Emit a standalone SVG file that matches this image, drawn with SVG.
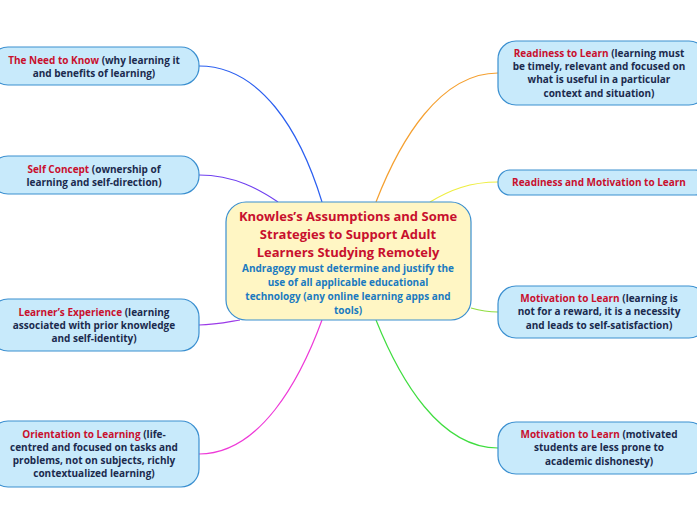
<svg xmlns="http://www.w3.org/2000/svg" width="697" height="520" viewBox="0 0 697 520">
<style>
text{font-family:"Open Sans","Noto Sans",sans-serif;font-weight:bold;text-anchor:middle}
.leaf{fill:#c8eafb;stroke:#3a8fd0;stroke-width:1.2}
.t{font-size:10px;fill:#1b2a4e}
.r{fill:#c8102e}
.c path{fill:none;stroke-width:1.2}
</style>
<rect width="697" height="520" fill="#fff"/>
<g class="c" id="connectors">
<path d="M199,66 C260,66 300,130 322,202" stroke="#2b5ff0"/>
<path d="M199,175 C235,175 260,190 278,202" stroke="#7040f0"/>
<path d="M199,325 C215,325 228,322 240,320" stroke="#9b3ae8"/>
<path d="M199,454 C260,454 300,380 322,320" stroke="#ee3ad8"/>
<path d="M498,73 C440,73 400,140 376,202" stroke="#f5a030"/>
<path d="M498,182 C470,182 450,190 430,202" stroke="#eeee40"/>
<path d="M498,312 C485,312 478,310 471,308" stroke="#90dd40"/>
<path d="M498,448 C440,448 400,380 376,320" stroke="#40dd40"/>
</g>
<g id="center">
<rect x="226" y="202" width="245" height="118" rx="20" fill="#fff6c4" stroke="#3a8fd0" stroke-width="1.2"/>
<text x="348" y="221" font-size="13" fill="#c8102e">Knowles’s Assumptions and Some</text>
<text x="348" y="239" font-size="13" fill="#c8102e">Strategies to Support Adult</text>
<text x="348" y="257" font-size="13" fill="#c8102e">Learners Studying Remotely</text>
<g font-size="10" fill="#1a7ac0">
<text x="348" y="272" font-size="10">Andragogy must determine and justify the</text>
<text x="348" y="286" font-size="10">use of all applicable educational</text>
<text x="348" y="300" font-size="10">technology (any online learning apps and</text>
<text x="348" y="314" font-size="10">tools)</text>
</g>
</g>
<g id="n1"><rect class="leaf" x="-10" y="47" width="209" height="38" rx="18"/>
<text class="t" x="94" y="64"><tspan class="r">The Need to Know</tspan> (why learning it</text>
<text class="t" x="94" y="77">and benefits of learning)</text></g>
<g id="n2"><rect class="leaf" x="-10" y="156" width="209" height="38" rx="18"/>
<text class="t" x="94" y="173"><tspan class="r">Self Concept</tspan> (ownership of</text>
<text class="t" x="94" y="186">learning and self-direction)</text></g>
<g id="n3"><rect class="leaf" x="-10" y="299" width="209" height="52" rx="18"/>
<text class="t" x="94" y="316"><tspan class="r">Learner’s Experience</tspan> (learning</text>
<text class="t" x="94" y="329">associated with prior knowledge</text>
<text class="t" x="94" y="342">and self-identity)</text></g>
<g id="n4"><rect class="leaf" x="-10" y="421" width="209" height="66" rx="18"/>
<text class="t" x="94" y="438"><tspan class="r">Orientation to Learning</tspan> (life-</text>
<text class="t" x="94" y="451">centred and focused on tasks and</text>
<text class="t" x="94" y="464">problems, not on subjects, richly</text>
<text class="t" x="94" y="477">contextualized learning)</text></g>
<g id="r1"><rect class="leaf" x="498" y="41" width="209" height="64" rx="18"/>
<text class="t" x="599" y="57"><tspan class="r">Readiness to Learn</tspan> (learning must</text>
<text class="t" x="599" y="70">be timely, relevant and focused on</text>
<text class="t" x="599" y="83">what is useful in a particular</text>
<text class="t" x="599" y="97">context and situation)</text></g>
<g id="r2"><rect class="leaf" x="498" y="170" width="209" height="25" rx="12"/>
<text class="t r" x="599" y="186">Readiness and Motivation to Learn</text></g>
<g id="r3"><rect class="leaf" x="498" y="286" width="209" height="52" rx="18"/>
<text class="t" x="599" y="302"><tspan class="r">Motivation to Learn</tspan> (learning is</text>
<text class="t" x="599" y="315">not for a reward, it is a necessity</text>
<text class="t" x="599" y="329">and leads to self-satisfaction)</text></g>
<g id="r4"><rect class="leaf" x="498" y="422" width="209" height="52" rx="18"/>
<text class="t" x="599" y="438"><tspan class="r">Motivation to Learn</tspan> (motivated</text>
<text class="t" x="599" y="451">students are less prone to</text>
<text class="t" x="599" y="465">academic dishonesty)</text></g>
</svg>
